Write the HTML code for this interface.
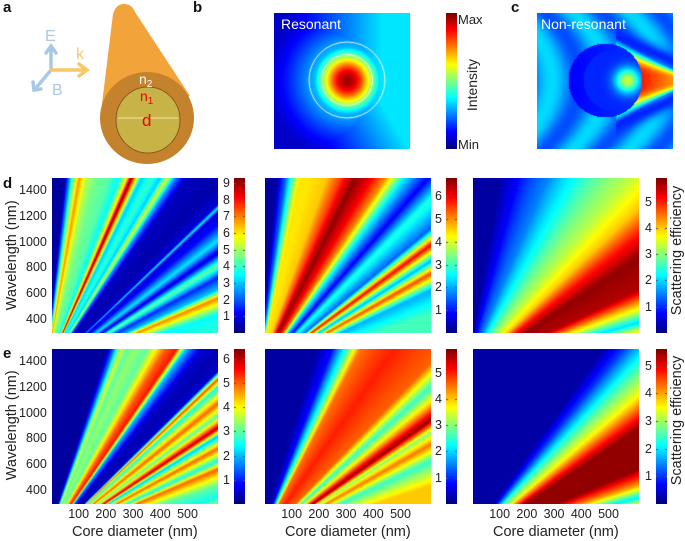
<!DOCTYPE html>
<html><head><meta charset="utf-8">
<style>
html,body{margin:0;padding:0;background:#fff;}
#root{position:relative;width:685px;height:541px;overflow:hidden;font-family:"Liberation Sans",Arial,sans-serif;}
canvas{position:absolute;}
.t{position:absolute;font-size:12.5px;color:#222;white-space:nowrap;line-height:1;}
.pl{position:absolute;font-weight:bold;font-size:15px;color:#111;line-height:1;}
.ax{position:absolute;font-size:14.5px;color:#222;white-space:nowrap;line-height:1;}
.w{position:absolute;color:#fff;font-size:16px;line-height:1;white-space:nowrap;}
</style></head>
<body>
<div id="root">
<svg width="685" height="170" style="position:absolute;left:0;top:0">
  <g stroke-width="3.5" fill="none" stroke-linecap="round">
    <line x1="51" y1="70" x2="51" y2="48" stroke="#a9c8e6"/>
    <polyline points="46,53 51,46 56,53" stroke="#a9c8e6"/>
    <line x1="51" y1="70" x2="36" y2="88" stroke="#a9c8e6"/>
    <polyline points="33,82 34,90 41,89" stroke="#a9c8e6"/>
    <line x1="51" y1="70" x2="84" y2="70" stroke="#f8c866"/>
    <polyline points="79,64 87,70 79,76" stroke="#f8c866"/>
  </g>
  <text x="45" y="41" font-size="16" fill="#a9c8e6" font-family="Liberation Sans">E</text>
  <text x="76" y="59" font-size="16" fill="#f8c866" font-family="Liberation Sans">k</text>
  <text x="52" y="95" font-size="16" fill="#a9c8e6" font-family="Liberation Sans">B</text>
  <path d="M113,14 Q116,4 124,4 Q132,4 135,12 L190,96 L101,112 Z" fill="#f2a33a"/>
  <ellipse cx="147" cy="118" rx="47" ry="46" fill="#c4822c"/>
  <ellipse cx="148" cy="120" rx="32" ry="33" fill="#c8b446" stroke="#8a5a20" stroke-width="1"/>
  <line x1="118" y1="118" x2="178" y2="118" stroke="#f3e6a8" stroke-width="1"/>
  <text x="139" y="84" font-size="14" fill="#fff" font-family="Liberation Sans">n<tspan font-size="10" dy="3">2</tspan></text>
  <text x="140" y="101" font-size="14" fill="#e00" font-family="Liberation Sans">n<tspan font-size="10" dy="3">1</tspan></text>
  <text x="142" y="126" font-size="17" fill="#e00" font-family="Liberation Sans">d</text>
</svg>
<div class="pl" style="left:3px;top:0px">a</div>
<div class="pl" style="left:193px;top:0px">b</div>
<div class="pl" style="left:511px;top:0px">c</div>
<div class="pl" style="left:3px;top:176px">d</div>
<div class="pl" style="left:3px;top:346px">e</div>

<canvas id="cb" width="136" height="136" style="left:274px;top:13px"></canvas>
<div class="w" style="left:281px;top:17px;font-size:14px">Resonant</div>
<canvas id="cbar" width="11" height="136" style="left:446px;top:13px"></canvas>
<div class="t" style="left:458px;top:13px;font-size:13px">Max</div>
<div class="t" style="left:458px;top:138px;font-size:13px">Min</div>
<div class="t" style="left:432px;top:78px;font-size:14px;transform:rotate(-90deg);transform-origin:center;width:80px;text-align:center;">Intensity</div>
<canvas id="cc" width="136" height="136" style="left:537px;top:13px"></canvas>
<div class="w" style="left:541px;top:17px;font-size:14px">Non-resonant</div>

<div class="ax" style="left:-48px;top:248px;width:120px;text-align:center;transform:rotate(-90deg)">Wavelength (nm)</div>
<div class="ax" style="left:-48px;top:418px;width:120px;text-align:center;transform:rotate(-90deg)">Wavelength (nm)</div>
<div class="ax" style="left:72px;top:525px">Core diameter (nm)</div>
<div class="ax" style="left:285px;top:525px">Core diameter (nm)</div>
<div class="ax" style="left:493px;top:525px">Core diameter (nm)</div>
<div class="ax" style="left:617px;top:248px;width:120px;text-align:center;transform:rotate(-90deg)">Scattering efficiency</div>
<div class="ax" style="left:617px;top:418px;width:120px;text-align:center;transform:rotate(-90deg)">Scattering efficiency</div>
<div class="w" style="left:55px;top:181px">TM</div>
<div class="w" style="left:55px;top:351px">TE</div>
<div class="w" style="left:170px;top:181px">n=3.5</div>
<div class="w" style="left:383px;top:181px">n=2.5</div>
<div class="w" style="left:591px;top:181px">n=1.5</div>
</div>
<script>
// ---- data ----
const xTicks=[100,200,300,400,500];
const yTicks=[400,600,800,1000,1200,1400];
const dRange=[0,610];
const lamRange=[300,1500];
// scattering efficiency profile vs t = wavelength/(d+24)
const tmN35T=[0.4,0.7,0.9,1.0,1.15,1.3,1.45,1.6,1.8,1.95,2.0,2.05,2.3,2.9,3.15,3.35,3.55,3.85,4.25,4.5,4.75,5.0,5.5,6.5,8,10,12,14,17,21,70];
const tmN35V=[4,3.5,7,3,1.5,4.5,0.8,3.3,1.2,0.8,3.5,0.8,0.4,0.6,2.5,5.5,3,4,3,6,9.2,6,3.5,4.3,4.5,5.2,6.8,5,2.5,0.3,0.2];
const tmN25T=[0.4,0.7,1.0,1.2,1.35,1.55,1.75,2.1,2.4,2.8,3.2,3.6,4.2,5,6,8,10,12,15,22,70];
const tmN25V=[3,3,2,5.5,2,6,1.5,2.8,0.8,2.5,5,6,6.7,5.5,4.6,4.4,4.4,3,1.5,0.2,0.2];
const tmN15T=[0.4,0.5,0.6,0.75,1.0,1.4,1.7,2.0,2.5,3.7,5,8,12,70];
const tmN15V=[4,3.5,2,3.5,5.6,5.8,5,4,3.3,2.3,1.5,0.7,0.2,0.2];
const teN35T=[0.4,0.55,0.7,0.9,1.0,1.15,1.3,1.4,1.55,1.7,1.9,2.0,2.1,2.3,2.6,2.9,3.1,3.4,4.0,4.6,5.0,5.4,6.0,6.6,70];
const teN35V=[4,2.5,3,5,2.5,5,2,6,3,5,2.5,5.2,0.5,0.3,0.5,2,5.5,5,3,3.3,3,3.7,1.5,0.2,0.2];
const teN25T=[0.4,0.7,1.0,1.2,1.35,1.5,1.7,1.9,2.2,3.0,4.0,4.6,5.5,7,70];
const teN25V=[4,4,2.5,4.5,3,5.8,4,2.5,4.6,5,4.5,2.5,0.8,0.2,0.2];
const teN15T=[0.4,0.5,0.55,0.7,0.9,1.4,1.6,1.8,2.2,2.6,3.0,70];
const teN15V=[3,3,2,4,5.5,5.5,4.5,3.5,2.3,1,0.2,0.2];
const tmMax=[9.3,6.8,5.9], teMax=[6.4,5.9,5.6];
const tmCbTicks=[[1,2,3,4,5,6,7,8,9],[1,2,3,4,5,6],[1,2,3,4,5]];
const teCbTicks=[[1,2,3,4,5,6],[1,2,3,4,5],[1,2,3,4,5]];
// ---- helpers ----
function jet(x){x=Math.max(0,Math.min(1,x));const c=v=>Math.round(255*Math.max(0,Math.min(1,v)));
 return [c(1.5-Math.abs(4*x-3)),c(1.5-Math.abs(4*x-2)),c(1.5-Math.abs(4*x-1))];}
function interp(T,V,t){if(t<=T[0])return V[0];for(let i=1;i<T.length;i++){if(t<=T[i]){const f=(t-T[i-1])/(T[i]-T[i-1]);return V[i-1]+f*(V[i]-V[i-1]);}}return V[V.length-1];}
const root=document.getElementById('root');
const cols=[{x:52,cb:234},{x:265,cb:446},{x:473,cb:656}];
const rows=[{y:178,h:155,prof:[[tmN35T,tmN35V],[tmN25T,tmN25V],[tmN15T,tmN15V]],max:tmMax,ticks:tmCbTicks,nm:'tm'},
            {y:349,h:155,prof:[[teN35T,teN35V],[teN25T,teN25V],[teN15T,teN15V]],max:teMax,ticks:teCbTicks,nm:'te'}];
const PW=166;
function xScale(d){return (d-dRange[0])/(dRange[1]-dRange[0])*PW;}
function yScale(l,h){return h-(l-lamRange[0])/(lamRange[1]-lamRange[0])*h;}
function dInv(px){return dRange[0]+px/PW*(dRange[1]-dRange[0]);}
function lInv(py,h){return lamRange[0]+(h-py)/h*(lamRange[1]-lamRange[0]);}
function addText(txt,l,t,name){const e=document.createElement('div');e.className='t';e.textContent=txt;e.style.left=l+'px';e.style.top=t+'px';


root.appendChild(e);return e;}
rows.forEach((r,ri)=>{
 cols.forEach((c,ci)=>{
  const cv=document.createElement('canvas');cv.width=PW;cv.height=r.h;cv.style.left=c.x+'px';cv.style.top=r.y+'px';
  
  
  root.appendChild(cv);
  const ctx=cv.getContext('2d');const img=ctx.createImageData(PW,r.h);
  const [T,V]=r.prof[ci];const mx=r.max[ci];
  for(let py=0;py<r.h;py++){const lam=lInv(py+0.5,r.h);for(let px=0;px<PW;px++){const d=dInv(px+0.5);const t=lam/(d+24);
   const col=jet(interp(T,V,t)/mx);const k=(py*PW+px)*4;img.data[k]=col[0];img.data[k+1]=col[1];img.data[k+2]=col[2];img.data[k+3]=255;}}
  ctx.putImageData(img,0,0);
  const cb=document.createElement('canvas');cb.width=11;cb.height=r.h;cb.style.left=c.cb+'px';cb.style.top=r.y+'px';
  
  
  root.appendChild(cb);
  const g=cb.getContext('2d');for(let i=0;i<r.h;i++){const col=jet(1-i/(r.h-1));g.fillStyle=`rgb(${col})`;g.fillRect(0,i,11,1);}
  g.strokeStyle='#555';g.lineWidth=1;
  r.ticks[ci].forEach(v=>{const y=Math.round(r.h-v/mx*r.h)+0.5;g.beginPath();g.moveTo(0,y);g.lineTo(2,y);g.moveTo(9,y);g.lineTo(11,y);g.stroke();
   addText(String(v),c.cb-11,r.y+y-7,r.nm+'-cb-tick-'+(ci+1)+'-'+v);});
  if(ri===1) xTicks.forEach(v=>addText(String(v),c.x+xScale(v)-11,508,'x-tick-'+(ci+1)+'-'+v));
 });
 yTicks.forEach(v=>addText(String(v),v>=1000?19:26,r.y+yScale(v,r.h)-7,r.nm+'-y-tick-'+v));
});
// panel b
(function(){const cv=document.getElementById('cb');const ctx=cv.getContext('2d');const img=ctx.createImageData(136,136);
 const cx=73,cy=67;
 for(let y=0;y<136;y++)for(let x=0;x<136;x++){
  const fx=Math.min(1,Math.max(0,(x-12-Math.max(0,y-90)*0.6)/95));
  const bg=0.07+0.28*fx;
  const r2=((x-cx)**2+(y-cy)**2);const gv=0.97*Math.exp(-r2/(2*22*22));
  const ring=0.42*Math.exp(-r2/(2*42*42));
  const v=Math.max(bg,gv,ring);
  const c=jet(v);const k=(y*136+x)*4;img.data[k]=c[0];img.data[k+1]=c[1];img.data[k+2]=c[2];img.data[k+3]=255;}
 ctx.putImageData(img,0,0);
 ctx.strokeStyle='rgba(255,255,255,0.9)';ctx.lineWidth=1;
 ctx.beginPath();ctx.arc(cx,cy,25.5,0,7);ctx.stroke();ctx.beginPath();ctx.arc(cx,cy,38,0,7);ctx.stroke();
 const b=document.getElementById('cbar').getContext('2d');for(let i=0;i<136;i++){const c=jet(1-i/135);b.fillStyle=`rgb(${c})`;b.fillRect(0,i,11,1);}
})();
// panel c
(function(){const cv=document.getElementById('cc');const ctx=cv.getContext('2d');const img=ctx.createImageData(136,136);
 const cx=68,cy=67;
 for(let y=0;y<136;y++)for(let x=0;x<136;x++){
  let v=0.27+0.07*Math.sin((x+0.15*(y-cy)*(y-cy)/20)/9);
  const r=Math.hypot(x-cx,y-cy);
  if(r<37){v=0.12+0.06*(x-cx+37)/74;const ri=Math.hypot(x-cx-8,y-cy);if(ri<30){v=0.16+0.42*Math.exp(-((x-cx-22)**2+(y-cy)**2)/150);}}
  else if(x>cx+10){const dy=Math.abs(y-cy);const dx=x-cx-30;const w=Math.max(3,28-dx*0.45);
    const lobe=(0.88-dx*0.004)*Math.exp(-Math.pow(dy/w,4));
    const dark=0.16; const near=Math.exp(-((dy-w-8)**2)/80);
    v=Math.max(lobe, v*(1-near)+dark*near);}
  const c=jet(v);const k=(y*136+x)*4;img.data[k]=c[0];img.data[k+1]=c[1];img.data[k+2]=c[2];img.data[k+3]=255;}
 ctx.putImageData(img,0,0);
})();
</script>
</body></html>
